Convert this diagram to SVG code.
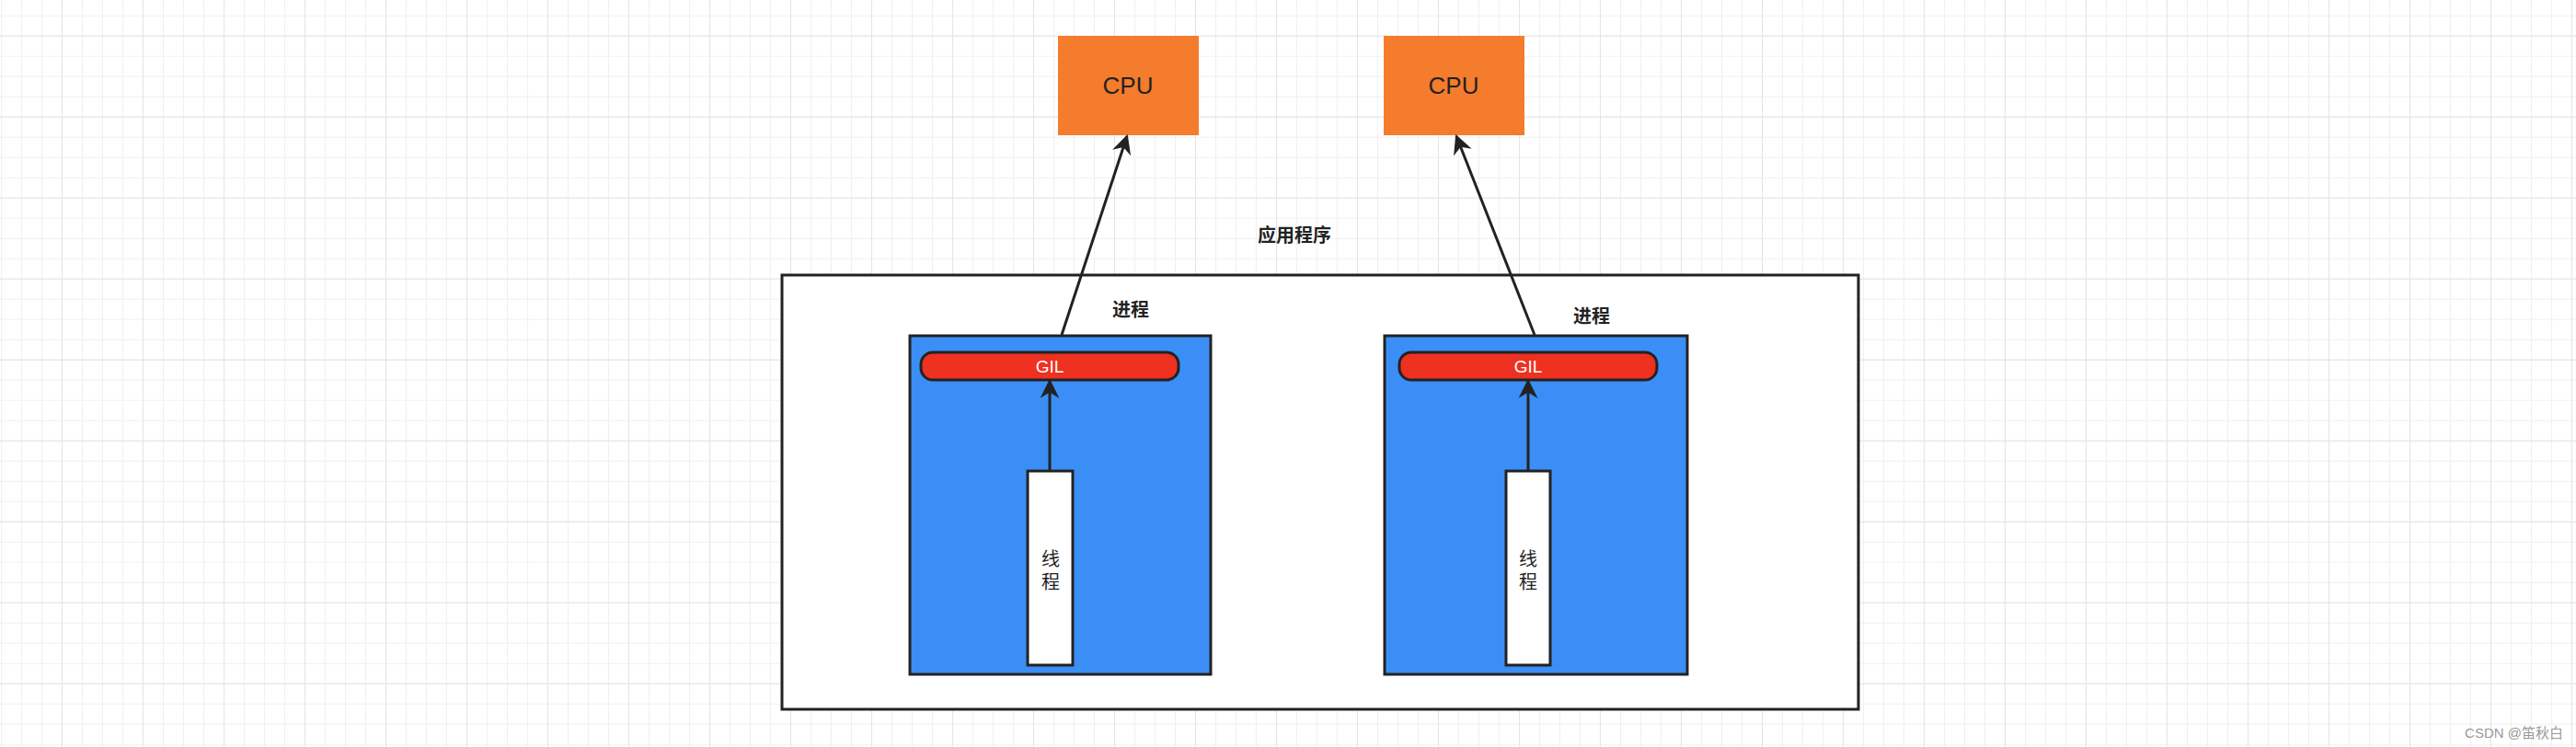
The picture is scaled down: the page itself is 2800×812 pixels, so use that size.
<svg xmlns="http://www.w3.org/2000/svg" width="2800" height="812" viewBox="0 0 2800 812">
<defs>
<pattern id="minor" x="1" y="16.7" width="22" height="22" patternUnits="userSpaceOnUse"><path d="M0 0H22M0 0V22" fill="none" stroke="#f0f0f0" stroke-width="2"/></pattern>
<pattern id="major" x="67" y="38.7" width="88" height="88" patternUnits="userSpaceOnUse"><path d="M0 0H88M0 0V88" fill="none" stroke="#e4e4e4" stroke-width="2"/></pattern>
<marker id="ah" viewBox="0 0 10 10" refX="9" refY="5" markerWidth="8" markerHeight="8" markerUnits="userSpaceOnUse" orient="auto"><path d="M0 0L10 5L0 10L3 5Z" fill="#222"/></marker>
<marker id="a" viewBox="0 0 10 10" refX="9" refY="5" markerWidth="7" markerHeight="7" orient="auto"><path d="M0 0L10 5L0 10L3 5Z" fill="#222"/></marker>
</defs>
<style>
.cpu{fill:#f47c2c}
.t{font-family:"Liberation Sans","Noto Sans CJK SC",sans-serif}
.lbl{font-family:"Noto Sans CJK SC","Liberation Sans",sans-serif;font-weight:bold;font-size:20px;fill:#222}
.proc{fill:#3b8ef5;stroke:#222;stroke-width:3}
.gil{fill:#ee3120;stroke:#222;stroke-width:3}
.thr{fill:#fff;stroke:#222;stroke-width:3}
.c{stroke:#222;stroke-width:3;fill:none;marker-end:url(#a)}
</style>
<rect width="2800" height="812" fill="#fff"/>
<rect width="2800" height="812" fill="url(#minor)"/>
<rect width="2800" height="812" fill="url(#major)"/>
<g id="app"><rect x="850" y="299" width="1170" height="472" fill="#fff" stroke="#222" stroke-width="3"/>
<text class="lbl" x="1407" y="263" text-anchor="middle">应用程序</text></g>
<g id="cpu1"><rect class="cpu" x="1150" y="39" width="153" height="108"/><text class="t" x="1226" y="102" font-size="26" text-anchor="middle" fill="#222">CPU</text></g>
<g id="cpu2"><rect class="cpu" x="1504" y="39" width="153" height="108"/><text class="t" x="1580" y="102" font-size="26" text-anchor="middle" fill="#222">CPU</text></g>
<g id="proc1"><rect class="proc" x="989" y="365" width="327" height="368"/><text class="lbl" x="1229" y="344" text-anchor="middle">进程</text></g>
<g id="proc2"><rect class="proc" x="1505" y="365" width="329" height="368"/><text class="lbl" x="1730" y="351" text-anchor="middle">进程</text></g>
<g id="gil1"><rect class="gil" x="1001" y="383" width="280" height="30" rx="13"/><text class="t" x="1141" y="405" font-size="19" text-anchor="middle" fill="#fff">GIL</text></g>
<g id="gil2"><rect class="gil" x="1521" y="383" width="280" height="30" rx="13"/><text class="t" x="1661" y="405" font-size="19" text-anchor="middle" fill="#fff">GIL</text></g>
<g id="thread1"><rect class="thr" x="1117" y="512" width="49" height="211"/><text class="t" x="1142" y="615" font-size="20" text-anchor="middle" fill="#222">线</text><text class="t" x="1142" y="640" font-size="20" text-anchor="middle" fill="#222">程</text></g>
<g id="thread2"><rect class="thr" x="1637" y="512" width="48" height="211"/><text class="t" x="1661" y="615" font-size="20" text-anchor="middle" fill="#222">线</text><text class="t" x="1661" y="640" font-size="20" text-anchor="middle" fill="#222">程</text></g>
<g id="connectors">
<line class="c" x1="1154" y1="364" x2="1225" y2="148"/>
<line class="c" x1="1668" y1="364" x2="1583" y2="148"/>
<line class="c" x1="1141" y1="511" x2="1141" y2="414"/>
<line class="c" x1="1661" y1="511" x2="1661" y2="414"/>
</g>
<text class="t" x="2786" y="802" font-size="15" text-anchor="end" fill="#999">CSDN @笛秋白</text>
</svg>
